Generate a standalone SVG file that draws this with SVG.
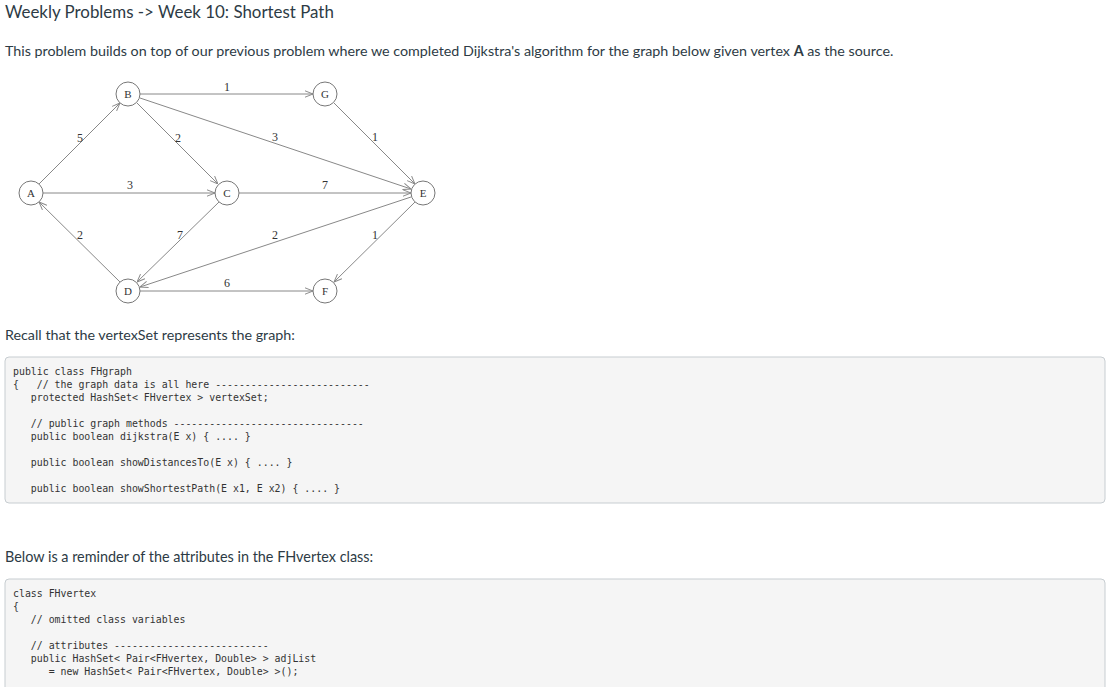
<svg xmlns="http://www.w3.org/2000/svg" width="1120" height="687" viewBox="0 0 1120 687">
<defs>
<style>
.t{font-family:Lato,"Liberation Sans",sans-serif;fill:#2d3b45}
.c{font-family:"DejaVu Sans Mono","Liberation Mono",monospace;font-size:9.9px;fill:#333;white-space:pre}
.n circle{fill:#fff;stroke:#777;stroke-width:1}
.n text{font-family:"Liberation Serif",serif;font-size:11px;fill:#333;text-anchor:middle}
.w text{font-family:"Liberation Serif",serif;font-size:12px;fill:#333;text-anchor:middle}
.e line{stroke:#888;stroke-width:1;marker-end:url(#ah)}
.box{fill:#f5f5f5;stroke:#c7cdd1;stroke-width:1}
</style>
<marker id="ah" viewBox="0 0 10 10" refX="10" refY="5" markerWidth="8" markerHeight="8" orient="auto" markerUnits="userSpaceOnUse"><path d="M0,1 L10,5 L0,9" fill="none" stroke="#888" stroke-width="1.2"/></marker>
</defs>
<rect width="1120" height="687" fill="#fff"/>
<text class="t" x="5" y="18" font-size="16.9">Weekly Problems -&gt; Week 10: Shortest Path</text>
<text class="t" x="5" y="56" font-size="14.3">This problem builds on top of our previous problem where we completed Dijkstra's algorithm for the graph below given vertex <tspan font-weight="bold">A</tspan> as the source.</text>
<g id="edges" class="e">
<line x1="39" y1="184" x2="120" y2="103"/>
<line x1="43" y1="193" x2="215" y2="193"/>
<line x1="120" y1="282" x2="39" y2="202"/>
<line x1="140" y1="94" x2="313" y2="94"/>
<line x1="137" y1="103" x2="218" y2="184"/>
<line x1="140" y1="98" x2="411" y2="189"/>
<line x1="239" y1="193" x2="411" y2="193"/>
<line x1="219" y1="202" x2="137" y2="282"/>
<line x1="411" y1="197" x2="140" y2="287"/>
<line x1="334" y1="103" x2="415" y2="184"/>
<line x1="415" y1="202" x2="334" y2="282"/>
<line x1="140" y1="291" x2="313" y2="291"/>
</g>
<g id="weights" class="w">
<text x="80" y="142">5</text>
<text x="130" y="189">3</text>
<text x="80" y="239">2</text>
<text x="227" y="91">1</text>
<text x="178" y="142">2</text>
<text x="275" y="141">3</text>
<text x="375" y="141">1</text>
<text x="325" y="189">7</text>
<text x="180" y="239">7</text>
<text x="275" y="239">2</text>
<text x="375" y="239">1</text>
<text x="227" y="287">6</text>
</g>
<g id="A" class="n"><circle cx="31" cy="193" r="12"/><text x="31" y="197">A</text></g>
<g id="B" class="n"><circle cx="128" cy="94" r="12"/><text x="128" y="98">B</text></g>
<g id="G" class="n"><circle cx="325" cy="94" r="12"/><text x="325" y="98">G</text></g>
<g id="C" class="n"><circle cx="227" cy="193" r="12"/><text x="227" y="197">C</text></g>
<g id="E" class="n"><circle cx="423" cy="193" r="12"/><text x="423" y="197">E</text></g>
<g id="D" class="n"><circle cx="128" cy="291" r="12"/><text x="128" y="295">D</text></g>
<g id="F" class="n"><circle cx="325" cy="291" r="12"/><text x="325" y="295">F</text></g>
<text class="t" x="5" y="340" font-size="14.3">Recall that the vertexSet represents the graph:</text>
<rect class="box" x="5" y="357" width="1100" height="146" rx="4"/>
<g xml:space="preserve">
<text class="c" x="13" y="375">public class FHgraph</text>
<text class="c" x="13" y="388">{   // the graph data is all here --------------------------</text>
<text class="c" x="13" y="401">   protected HashSet&lt; FHvertex &gt; vertexSet;</text>
<text class="c" x="13" y="427">   // public graph methods --------------------------------</text>
<text class="c" x="13" y="440">   public boolean dijkstra(E x) { .... }</text>
<text class="c" x="13" y="466">   public boolean showDistancesTo(E x) { .... }</text>
<text class="c" x="13" y="492">   public boolean showShortestPath(E x1, E x2) { .... }</text>
</g>
<text class="t" x="5" y="562" font-size="14.4">Below is a reminder of the attributes in the FHvertex class:</text>
<rect class="box" x="5" y="579" width="1100" height="120" rx="4"/>
<g xml:space="preserve">
<text class="c" x="13" y="597">class FHvertex</text>
<text class="c" x="13" y="610">{</text>
<text class="c" x="13" y="623">   // omitted class variables</text>
<text class="c" x="13" y="649">   // attributes --------------------------</text>
<text class="c" x="13" y="662">   public HashSet&lt; Pair&lt;FHvertex, Double&gt; &gt; adjList</text>
<text class="c" x="13" y="675">      = new HashSet&lt; Pair&lt;FHvertex, Double&gt; &gt;();</text>
</g>
</svg>
